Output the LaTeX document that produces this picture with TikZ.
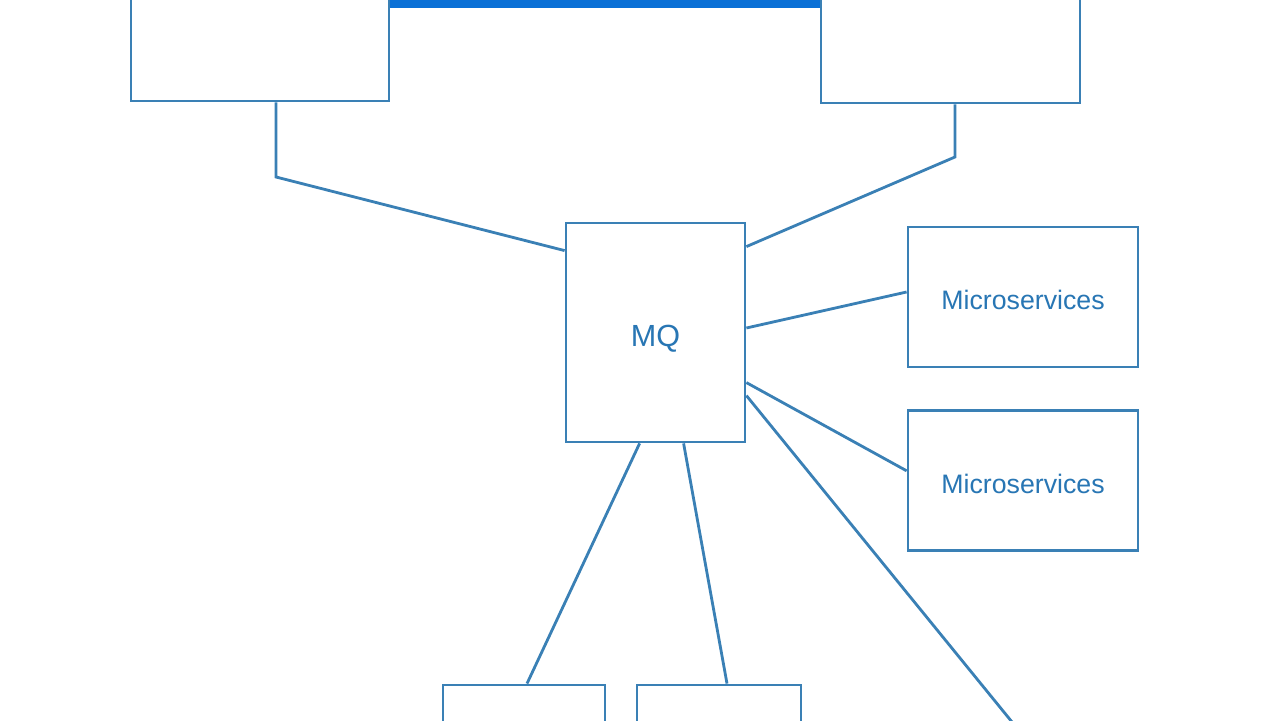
\documentclass[tikz,border=0pt]{standalone}
\usepackage{fontspec}
\setmainfont{Liberation Sans}
\usetikzlibrary{positioning}
\usepackage{xcolor}
\definecolor{lineblue}{RGB}{58,128,181}
\definecolor{textblue}{RGB}{40,118,180}
\definecolor{barblue}{RGB}{10,112,214}

\begin{document}
\begin{tikzpicture}[
box/.style={draw=lineblue, line width=1.6pt, fill=white, rectangle},
link/.style={draw=lineblue, line width=1.6pt},
label/.style={text=textblue, font=\fontsize{15.2}{18}\selectfont, text height=0.51cm}
]
\useasboundingbox (0,0) rectangle (25.6,14.4);
\clip (0,0) rectangle (25.6,14.4);

% top boxes and bar
\fill[barblue] (7.78,14.23) rectangle (16.42,14.6);
\node[box, minimum width=5.16cm, minimum height=2.22cm] (ltop) at (5.2,13.49) {};
\node[box, minimum width=5.18cm, minimum height=2.26cm] (rtop) at (19.01,13.47) {};

% queue and services
\node[box, minimum width=3.58cm, minimum height=4.38cm, label, font=\fontsize{17.4}{20}\selectfont, text height=0.69cm] (mq) at (13.11,7.75) {MQ};
\node[box, minimum width=4.6cm, minimum height=2.8cm, label] (ms1) at (20.46,8.46) {Microservices};
\node[box, minimum width=4.6cm, minimum height=2.8cm, below=0.82cm of ms1, label] (ms2) {Microservices};
\node[box, minimum width=3.24cm, minimum height=1.2cm] (bot1) at (10.48,0.1) {};
\node[box, minimum width=3.28cm, minimum height=1.2cm] (bot2) at (14.38,0.1) {};

\coordinate (lbend) at (5.52,10.86);
\coordinate (rbend) at (19.1,11.26);
\coordinate (offb) at (20.24,-0.04);

\draw[link] (lbend |- ltop.south) -- (lbend) -- ([yshift=-0.58cm]mq.north west);
\draw[link] (rbend |- rtop.south) -- (rbend) -- ([yshift=-0.5cm]mq.north east);
\draw[link] ([yshift=0.09cm]mq.east) -- ([yshift=0.1cm]ms1.west);
\draw[link] ([yshift=-3.22cm]mq.north east) -- ([yshift=0.2cm]ms2.west);
\draw[link] ([yshift=-3.48cm]mq.north east) -- (offb);
\draw[link] ([xshift=1.5cm]mq.south west) -- ([xshift=0.06cm]bot1.north);
\draw[link] ([xshift=2.38cm]mq.south west) -- ([xshift=0.16cm]bot2.north);

\end{tikzpicture}
\end{document}
